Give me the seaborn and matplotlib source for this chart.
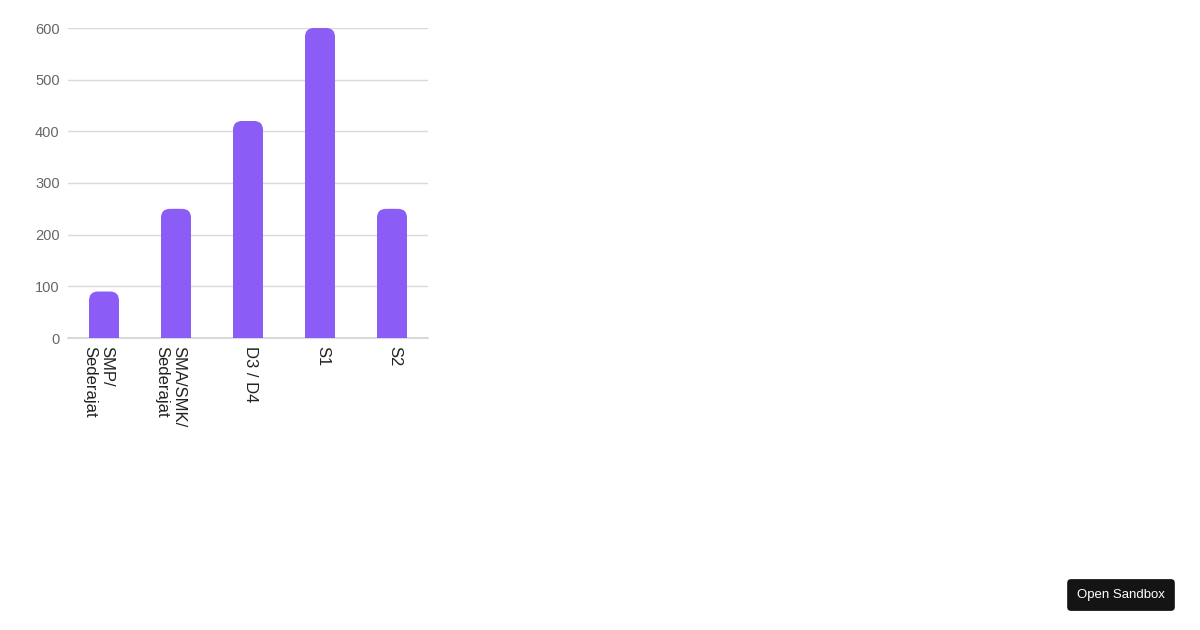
import matplotlib
matplotlib.use("Agg")
import matplotlib.pyplot as plt
import matplotlib.transforms as mtransforms
import seaborn as sns
import pandas as pd
from matplotlib.patches import FancyBboxPatch, Rectangle

# data
categories = ["SMP/\nSederajat", "SMA/SMK/\nSederajat", "D3 / D4", "S1", "S2"]
values = [90, 250, 420, 600, 250]
yticks = [0, 100, 200, 300, 400, 500, 600]

bar_color = "#8b5cf6"

sns.set_theme(style="white")
plt.rcParams['font.family'] = ['Liberation Sans', 'DejaVu Sans']

dt = pd.DataFrame({"cat": categories, "val": values})

fig = plt.figure(figsize=(12, 6.3), dpi=100)
ax = fig.add_axes([68/1200, 292/630, 360/1200, 310/630])

sns.barplot(data=dt, x="cat", y="val", color=bar_color, width=30/72, ax=ax,
            saturation=1, zorder=3)

ax.set_xlim(-0.5, 4.5)
ax.set_ylim(0, 600)
ax.set_yticks(yticks)
ax.yaxis.grid(True, color="#d9d9d9", linewidth=1, zorder=0)
ax.xaxis.grid(False)
for s in ax.spines.values():
    s.set_visible(False)
# baseline at 0
ax.axhline(0, color="#d9d9d9", linewidth=1.5, zorder=1, clip_on=False)
ax.set_xlabel("")
ax.set_ylabel("")
ax.tick_params(axis="y", length=0, pad=6, labelsize=10.5, labelcolor="#666666")
ax.tick_params(axis="x", length=0, pad=6, labelsize=12, labelcolor="#222222")
for lab in ax.get_xticklabels():
    lab.set_rotation(-90)
    lab.set_va("top")
    lab.set_ha("center")
    lab.set_multialignment("left")
    dx = -6 if "\n" in lab.get_text() else 3
    shift = mtransforms.ScaledTranslation(dx/100, 0, fig.dpi_scale_trans)
    lab.set_transform(lab.get_transform() + shift)

# rounded tops: replace the plain bars
xpp = 5 / 360          # x data units per pixel
ypp = 600 / 310        # y data units per pixel
r_px = 9
for p in list(ax.patches):
    x, y, w, h = p.get_x(), p.get_y(), p.get_width(), p.get_height()
    p.remove()
    rr = FancyBboxPatch((x, y), w, h,
                        boxstyle="round,pad=0,rounding_size=%f" % (r_px * xpp),
                        mutation_aspect=ypp / xpp,
                        fc=bar_color, ec="none", zorder=3)
    ax.add_patch(rr)
    ax.add_patch(Rectangle((x, y), w, h - r_px * ypp, fc=bar_color, ec="none", zorder=3))

fig.text(1121/1200, 1 - 595/630, "Open Sandbox", color="white", fontsize=9.5,
         ha="center", va="center",
         bbox=dict(boxstyle="round,pad=0.75,rounding_size=0.3", fc="#141414", ec="none"))

plt.savefig("out.png", dpi=100)
